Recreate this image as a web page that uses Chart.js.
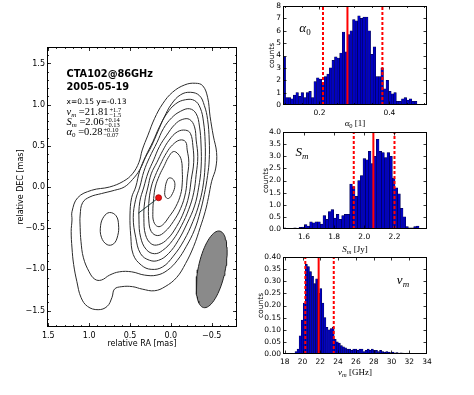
<!DOCTYPE html>
<html>
<head>
<meta charset="utf-8">
<title>CTA102 86GHz</title>
<script src="https://cdn.jsdelivr.net/npm/chart.js@4/dist/chart.umd.min.js"></script>
<style>
  html, body { margin: 0; padding: 0; background: #fff; }
  #fig { position: relative; width: 474px; height: 395px; overflow: hidden; }
  #fig canvas { position: absolute; }
  .t { position: absolute; white-space: nowrap; color: #000; line-height: 1.15; transform: translateY(-50%); }
  .c { transform: translate(-50%, -50%); }
  .b { font: bold 9.8px "DejaVu Sans", sans-serif; }
  .s { font: 7.5px "DejaVu Sans", sans-serif; }
  .m { font: 10.5px "Liberation Serif", serif; line-height: 11px; }
  .m sub { font-size: 7px; vertical-align: -2px; line-height: 0; }
  .ss { position: relative; display: inline-block; width: 18px; height: 0; }
  .ss span { position: absolute; left: 1px; font-size: 6.5px; line-height: 1; }
  .ss .sp { bottom: 1.5px; }
  .ss .sb { top: -3px; }
  .p { font: 13px "Liberation Serif", serif; }
  .p sub { font-size: 9px; vertical-align: -3px; }
  .ax { font: 9px "Liberation Serif", serif; }
  .ax sub { font-size: 6.5px; vertical-align: -2px; }
</style>
</head>
<body>
<div id="fig">
  <canvas id="map" width="250" height="395" style="left:0;top:0"></canvas>
  <canvas id="histAlpha" width="234" height="140" style="left:240px;top:-10px"></canvas>
  <canvas id="histSm" width="234" height="135" style="left:240px;top:116px"></canvas>
  <canvas id="histNu" width="234" height="135" style="left:240px;top:241px"></canvas>

  <!-- texto do mapa -->
  <div class="t b" style="left:66.5px;top:72.5px">CTA102@86GHz</div>
  <div class="t b" style="left:66.5px;top:85.5px">2005-05-19</div>
  <div class="t s" style="left:66.5px;top:101px">x=0.15 y=-0.13</div>
  <div class="t m" style="left:66.5px;top:111px"><i>ν</i><sub><i>m</i></sub> =21.81<span class="ss"><span class="sp">+1.7</span><span class="sb">−1.5</span></span></div>
  <div class="t m" style="left:66.5px;top:121px"><i>S</i><sub><i>m</i></sub> =2.06<span class="ss"><span class="sp">+0.14</span><span class="sb">−0.13</span></span></div>
  <div class="t m" style="left:66.5px;top:131px"><i>α</i><sub>0</sub> =0.28<span class="ss"><span class="sp">+0.10</span><span class="sb">−0.07</span></span></div>

  <!-- rótulos dos histogramas -->
  <div class="t c p" style="left:305px;top:28px"><i>α</i><sub>0</sub></div>
  <div class="t c p" style="left:302px;top:152px"><i>S</i><sub><i>m</i></sub></div>
  <div class="t c p" style="left:403px;top:280px"><i>ν</i><sub><i>m</i></sub></div>
  <div class="t c ax" style="left:355px;top:123px"><i>α</i><sub>0</sub> [1]</div>
  <div class="t c ax" style="left:355px;top:248.5px"><i>S</i><sub><i>m</i></sub> [Jy]</div>
  <div class="t c ax" style="left:355px;top:372px"><i>ν</i><sub><i>m</i></sub> [GHz]</div>
</div>

<script>
/* ---------------- dados do mapa (RA, DEC em mas) ---------------- */
const mapXTicks = [1.5, 1.0, 0.5, 0.0, -0.5];
const mapYTicks = [-1.5, -1.0, -0.5, 0.0, 0.5, 1.0, 1.5];

// contornos, do mais externo ao mais interno
const contour1 = [[1.21,-0.30],[1.14,-0.13],[0.97,-0.04],[0.75,0.00],[0.58,0.07],[0.47,0.16],[0.39,0.30],[0.35,0.45],[0.28,0.63],[0.20,0.83],[0.10,1.01],[-0.02,1.15],[-0.17,1.24],[-0.30,1.26],[-0.39,1.23],[-0.45,1.09],[-0.48,0.86],[-0.52,0.62],[-0.56,0.42],[-0.55,0.23],[-0.50,0.07],[-0.46,-0.13],[-0.42,-0.30],[-0.36,-0.49],[-0.28,-0.72],[-0.18,-0.93],[-0.07,-1.10],[0.07,-1.21],[0.20,-1.26],[0.35,-1.24],[0.47,-1.21],[0.60,-1.21],[0.69,-1.24],[0.72,-1.34],[0.78,-1.45],[0.89,-1.49],[1.02,-1.45],[1.10,-1.34],[1.15,-1.15],[1.19,-0.94],[1.21,-0.74],[1.22,-0.54],[1.21,-0.40]];
const contour2 = [[1.11,-0.34],[1.08,-0.19],[0.99,-0.12],[0.85,-0.08],[0.69,-0.04],[0.57,0.00],[0.47,0.09],[0.38,0.21],[0.31,0.36],[0.24,0.49],[0.16,0.67],[0.08,0.85],[-0.01,1.01],[-0.12,1.12],[-0.24,1.15],[-0.35,1.11],[-0.41,0.99],[-0.45,0.82],[-0.47,0.57],[-0.47,0.33],[-0.45,0.14],[-0.41,-0.09],[-0.36,-0.30],[-0.29,-0.52],[-0.19,-0.72],[-0.08,-0.89],[0.04,-1.01],[0.17,-1.07],[0.32,-1.07],[0.48,-1.03],[0.63,-1.03],[0.75,-1.07],[0.85,-1.13],[0.93,-1.12],[1.00,-1.03],[1.07,-0.86],[1.10,-0.66],[1.11,-0.49]];
const contour3 = [[0.43,0.00],[0.38,0.20],[0.31,0.37],[0.22,0.55],[0.14,0.73],[0.05,0.89],[-0.06,1.01],[-0.18,1.06],[-0.29,1.05],[-0.36,0.96],[-0.40,0.79],[-0.42,0.55],[-0.42,0.30],[-0.40,0.05],[-0.35,-0.19],[-0.27,-0.42],[-0.16,-0.65],[-0.03,-0.84],[0.10,-0.97],[0.24,-1.00],[0.36,-0.95],[0.46,-0.82],[0.49,-0.60],[0.50,-0.34],[0.48,-0.13]];
const contour4 = [[0.38,0.00],[0.33,0.19],[0.26,0.36],[0.17,0.54],[0.09,0.71],[-0.01,0.84],[-0.12,0.92],[-0.23,0.95],[-0.31,0.89],[-0.35,0.74],[-0.37,0.51],[-0.37,0.23],[-0.34,-0.01],[-0.29,-0.23],[-0.20,-0.44],[-0.09,-0.65],[0.03,-0.81],[0.15,-0.89],[0.26,-0.89],[0.37,-0.81],[0.43,-0.61],[0.46,-0.37],[0.43,-0.15]];
const contour5 = [[0.33,0.00],[0.28,0.17],[0.21,0.33],[0.14,0.49],[0.05,0.63],[-0.05,0.76],[-0.14,0.82],[-0.23,0.82],[-0.29,0.73],[-0.31,0.57],[-0.33,0.37],[-0.31,0.15],[-0.28,-0.07],[-0.22,-0.27],[-0.13,-0.47],[-0.02,-0.65],[0.10,-0.77],[0.20,-0.81],[0.30,-0.76],[0.37,-0.61],[0.39,-0.40],[0.38,-0.18]];
const contour6 = [[0.28,0.00],[0.24,0.16],[0.17,0.30],[0.10,0.44],[0.02,0.57],[-0.08,0.67],[-0.18,0.69],[-0.24,0.65],[-0.27,0.50],[-0.28,0.30],[-0.25,0.09],[-0.22,-0.11],[-0.16,-0.30],[-0.07,-0.48],[0.04,-0.63],[0.15,-0.70],[0.24,-0.69],[0.31,-0.58],[0.33,-0.38],[0.32,-0.18]];
const contour7 = [[0.24,0.00],[0.19,0.14],[0.13,0.27],[0.05,0.42],[-0.02,0.51],[-0.11,0.57],[-0.18,0.55],[-0.20,0.45],[-0.22,0.30],[-0.20,0.11],[-0.18,-0.07],[-0.12,-0.26],[-0.03,-0.42],[0.07,-0.54],[0.16,-0.59],[0.24,-0.54],[0.27,-0.40],[0.27,-0.20]];
const contour8 = [[0.19,0.00],[0.14,0.14],[0.08,0.26],[0.03,0.36],[-0.03,0.43],[-0.09,0.40],[-0.13,0.32],[-0.14,0.19],[-0.14,0.05],[-0.12,-0.09],[-0.06,-0.24],[0.02,-0.36],[0.10,-0.46],[0.16,-0.48],[0.21,-0.42],[0.22,-0.30],[0.21,-0.14]];
const contourBlob = [[0.75,-0.31],[0.67,-0.35],[0.64,-0.46],[0.65,-0.59],[0.70,-0.69],[0.78,-0.70],[0.85,-0.61],[0.86,-0.47],[0.82,-0.36]];
const contourCore = [[0.02,0.11],[-0.03,0.09],[-0.05,0.02],[-0.02,-0.08],[0.03,-0.14],[0.07,-0.11],[0.07,-0.02],[0.05,0.07]];

const modelPos = [0.15, -0.13];          // ponto vermelho (x, y)
const jetEnd = [0.40, -0.32];            // fim do traço
const beamCenter = [-0.50, -1.00];       // feixe (RA, DEC)
const beamAxes = [0.95, 0.33];           // eixo maior, menor (mas)
const beamPA = -12;                      // graus

/* ---------------- dados dos histogramas ---------------- */
const alphaCounts = [3.9,0.6,0.6,0.5,0.8,1.0,0.7,1.0,0.6,1.0,1.1,0.6,1.9,2.2,2.1,1.8,2.3,2.5,3.0,3.6,3.9,3.8,4.2,5.9,4.3,5.7,6.0,6.9,6.8,7.2,7.0,7.1,7.1,6.0,4.1,4.7,2.3,2.3,3.0,1.3,2.0,1.1,0.9,1.0,0.3,0.3,0.5,0.6,0.4,0.5,0.3,0.3];
const alphaBins = [0.0956, 0.00737];     // primeira borda, largura
const alphaStats = [0.28, 0.21, 0.38];   // mediana, inferior, superior
const alphaXTicks = [0.2, 0.4];
const alphaYTicks = [0, 1, 2, 3, 4, 5, 6, 7, 8];

const smCounts = [0.05,0.03,0,0.02,0.05,0.03,0.07,0.08,0.18,0.12,0.3,0.25,0.3,0.3,0.2,0.55,0.4,0.72,0.8,0.45,0.6,0.4,0.55,0.6,0.6,1.85,1.75,1.35,2.0,2.2,2.9,2.85,3.2,2.7,3.0,3.7,3.2,3.15,2.95,3.15,3.0,2.1,1.7,1.45,0.85,0.5,0.1,0.05,0.05,0.1,0.12];
const smBins = [1.461, 0.01768];
const smStats = [2.06, 1.93, 2.20];
const smXTicks = [1.6, 1.8, 2.0, 2.2];
const smYTicks = [0, 0.5, 1.0, 1.5, 2.0, 2.5, 3.0, 3.5, 4.0];

const nuCounts = [0.01,0.02,0.075,0.14,0.21,0.37,0.36,0.34,0.32,0.29,0.31,0.25,0.27,0.21,0.15,0.11,0.10,0.105,0.11,0.06,0.05,0.045,0.035,0.03,0.025,0.02,0.02,0.015,0.02,0.02,0.015,0.02,0.02,0.01,0.015,0.02,0.015,0.02,0.015,0.015,0.01,0.015,0.01,0.008,0.01,0.008,0.006,0.008,0.005,0.006,0.004,0.005,0.004,0.003,0.004,0.003,0.002,0.003,0.002,0.002,0.001,0.002];
const nuBins = [19.15, 0.232];
const nuStats = [21.81, 20.31, 23.51];
const nuXTicks = [18, 20, 22, 24, 26, 28, 30, 32, 34];
const nuYTicks = [0, 0.05, 0.10, 0.15, 0.20, 0.25, 0.30, 0.35, 0.40];

Chart.defaults.font.family = '"DejaVu Sans", sans-serif';
Chart.defaults.color = '#000';

function fmt(v, d) { return v.toFixed(d).replace('-', '\u2212'); }

function steps(a, b, st) {
    // marcas menores do eixo
    const out = [];
    for (let v = a; v <= b + 1e-9; v += st) out.push(+v.toFixed(4));
    return out;
}

/* Moldura e marcas para dentro, como no matplotlib */
const frameTicks = {
    id: 'frameTicks',
    afterDraw(chart, args, o) {
        const { ctx, chartArea: a, scales } = chart;
        ctx.save();
        ctx.strokeStyle = '#000';
        ctx.lineWidth = 0.8;
        ctx.beginPath();
        const mark = (axis, values, len) => {
            const s = scales[axis];
            values.forEach((v) => {
                const p = Math.round(s.getPixelForValue(v)) + 0.5;
                if (axis === 'x') {
                    if (p < a.left || p > a.right) return;
                    ctx.moveTo(p, a.bottom); ctx.lineTo(p, a.bottom - len);
                    ctx.moveTo(p, a.top); ctx.lineTo(p, a.top + len);
                } else {
                    if (p < a.top || p > a.bottom) return;
                    ctx.moveTo(a.left, p); ctx.lineTo(a.left + len, p);
                    ctx.moveTo(a.right, p); ctx.lineTo(a.right - len, p);
                }
            });
        };
        mark('x', scales.x.ticks.map((t) => t.value), o.major);
        mark('y', scales.y.ticks.map((t) => t.value), o.major);
        mark('x', o.xMinor || [], o.minor);
        mark('y', o.yMinor || [], o.minor);
        ctx.stroke();
        ctx.lineWidth = 1;
        ctx.strokeRect(a.left + 0.5, a.top + 0.5, a.right - a.left - 1, a.bottom - a.top - 1);
        ctx.restore();
    }
};

/* contorno fechado: repete vizinhos nas pontas e esconde os segmentos extras */
function ringDataset(pairs) {
    const pts = pairs.map((p) => ({ x: p[0], y: p[1] }));
    const n = pts.length;
    const data = [{ ...pts[n - 1] }, ...pts, { ...pts[0] }, { ...pts[1] }];
    const last = data.length - 1;
    return {
        data, showLine: true, tension: 0.4, borderColor: '#2b2b2b', borderWidth: 1,
        pointRadius: 0, fill: false, order: 3,
        segment: { borderColor: (c) => (c.p0DataIndex === 0 || c.p1DataIndex === last) ? 'rgba(0,0,0,0)' : undefined }
    };
}

function beamOutline() {
    const pa = beamPA * Math.PI / 180;
    const pts = [];
    for (let i = 0; i <= 72; i++) {
        const t = i / 72 * 2 * Math.PI;
        const a = beamAxes[0] / 2 * Math.cos(t);
        const b = beamAxes[1] / 2 * Math.sin(t);
        pts.push({ x: beamCenter[0] + a * Math.sin(pa) + b * Math.cos(pa), y: beamCenter[1] + a * Math.cos(pa) - b * Math.sin(pa) });
    }
    return pts;
}

/* ---------------- mapa de contornos ---------------- */
new Chart(document.getElementById('map'), {
    type: 'scatter',
    data: {
        datasets: [
            { data: [{ x: modelPos[0], y: modelPos[1] }], pointRadius: 3, backgroundColor: '#ee1111', borderColor: '#a00000', borderWidth: 0.8, order: 0 },
            { data: [{ x: modelPos[0], y: modelPos[1] }, { x: jetEnd[0], y: jetEnd[1] }], showLine: true, pointRadius: 0, borderColor: '#1e3838', borderWidth: 1, order: 1 },
            { data: beamOutline(), showLine: true, pointRadius: 0, borderColor: '#222', borderWidth: 1, backgroundColor: '#8a8a8a', fill: 'shape', order: 2 },
            ...[contour1, contour2, contour3, contour4, contour5, contour6, contour7, contour8, contourBlob, contourCore].map(ringDataset)
        ]
    },
    options: {
        responsive: false, animation: false, events: [],
        layout: { padding: { left: 0, top: 47, right: 13, bottom: 40 } },
        plugins: {
            legend: { display: false }, tooltip: { enabled: false },
            frameTicks: { major: 4, minor: 2, xMinor: steps(-0.8, 1.5, 0.1), yMinor: steps(-1.7, 1.7, 0.1) }
        },
        scales: {
            x: {
                type: 'linear', reverse: true, min: -0.81, max: 1.516,
                grid: { display: false, drawTicks: false }, border: { display: false },
                afterBuildTicks: (s) => { s.ticks = mapXTicks.map((v) => ({ value: v })); },
                ticks: { autoSkip: false, maxRotation: 0, padding: 4, font: { size: 8 }, callback: (v) => fmt(v, 1) },
                title: { display: true, text: 'relative RA [mas]', font: { size: 8 }, padding: { top: 0, bottom: 6 } },
                afterFit: (s) => { s.height = 28; }
            },
            y: {
                type: 'linear', min: -1.7, max: 1.7,
                grid: { display: false, drawTicks: false }, border: { display: false },
                afterBuildTicks: (s) => { s.ticks = mapYTicks.map((v) => ({ value: v })); },
                ticks: { autoSkip: false, padding: 2, font: { size: 8 }, callback: (v) => fmt(v, 1) },
                title: { display: true, text: 'relative DEC [mas]', font: { size: 8 }, padding: { top: 16, bottom: 0 } },
                afterFit: (s) => { s.width = 47; }
            }
        }
    },
    plugins: [frameTicks]
});

/* ---------------- histogramas ---------------- */
function histograma(id, counts, bins, stats, xRange, yRange, xTicks, yTicks, dx, dy, pad, titlePad, xMinor) {
    const linha = (v, dash) => ({
        type: 'line', data: [{ x: v, y: yRange[0] }, { x: v, y: yRange[1] }],
        borderColor: '#ff0000', borderWidth: 2, borderDash: dash, pointRadius: 0, order: 0
    });
    new Chart(document.getElementById(id), {
        type: 'bar',
        data: {
            datasets: [
                linha(stats[0], []),
                linha(stats[1], [3, 2]),
                linha(stats[2], [3, 2]),
                {
                    type: 'bar',
                    data: counts.map((c, i) => ({ x: bins[0] + (i + 0.5) * bins[1], y: c })),
                    backgroundColor: '#0000c4', borderColor: '#00003a', borderWidth: 0.5,
                    barPercentage: 1, categoryPercentage: 1, order: 1
                }
            ]
        },
        options: {
            responsive: false, animation: false, events: [],
            layout: { padding: pad },
            plugins: {
                legend: { display: false }, tooltip: { enabled: false },
                frameTicks: { major: 3.5, minor: 2, xMinor: xMinor || [] }
            },
            scales: {
                x: {
                    type: 'linear', min: xRange[0], max: xRange[1], offset: false,
                    grid: { display: false, drawTicks: false }, border: { display: false },
                    afterBuildTicks: (s) => { s.ticks = xTicks.map((v) => ({ value: v })); },
                    ticks: { autoSkip: false, maxRotation: 0, padding: 3.5, font: { size: 7.5 }, callback: (v) => fmt(v, dx) },
                    afterFit: (s) => { s.height = 14; }
                },
                y: {
                    type: 'linear', min: yRange[0], max: yRange[1],
                    grid: { display: false, drawTicks: false }, border: { display: false },
                    afterBuildTicks: (s) => { s.ticks = yTicks.map((v) => ({ value: v })); },
                    ticks: { autoSkip: false, padding: 2, font: { size: 7.5 }, callback: (v) => fmt(v, dy) },
                    title: { display: true, text: 'counts', font: { size: 7.5 }, padding: { top: titlePad, bottom: 0 } },
                    afterFit: (s) => { s.width = 43; }
                }
            }
        },
        plugins: [frameTicks]
    });
}

histograma('histAlpha', alphaCounts, alphaBins, alphaStats, [0.0956, 0.5076], [0, 8], alphaXTicks, alphaYTicks, 1, 0,
    { left: 0, top: 16, right: 47, bottom: 11 }, 28, steps(0.1, 0.5, 0.05));
histograma('histSm', smCounts, smBins, smStats, [1.461, 2.4155], [0, 4], smXTicks, smYTicks, 1, 1,
    { left: 0, top: 16, right: 47, bottom: 8 }, 21.5);
histograma('histNu', nuCounts, nuBins, nuStats, [17.8, 34.0], [0, 0.4], nuXTicks, nuYTicks, 0, 2,
    { left: 0, top: 16, right: 47, bottom: 8 }, 17);
</script>
</body>
</html>
